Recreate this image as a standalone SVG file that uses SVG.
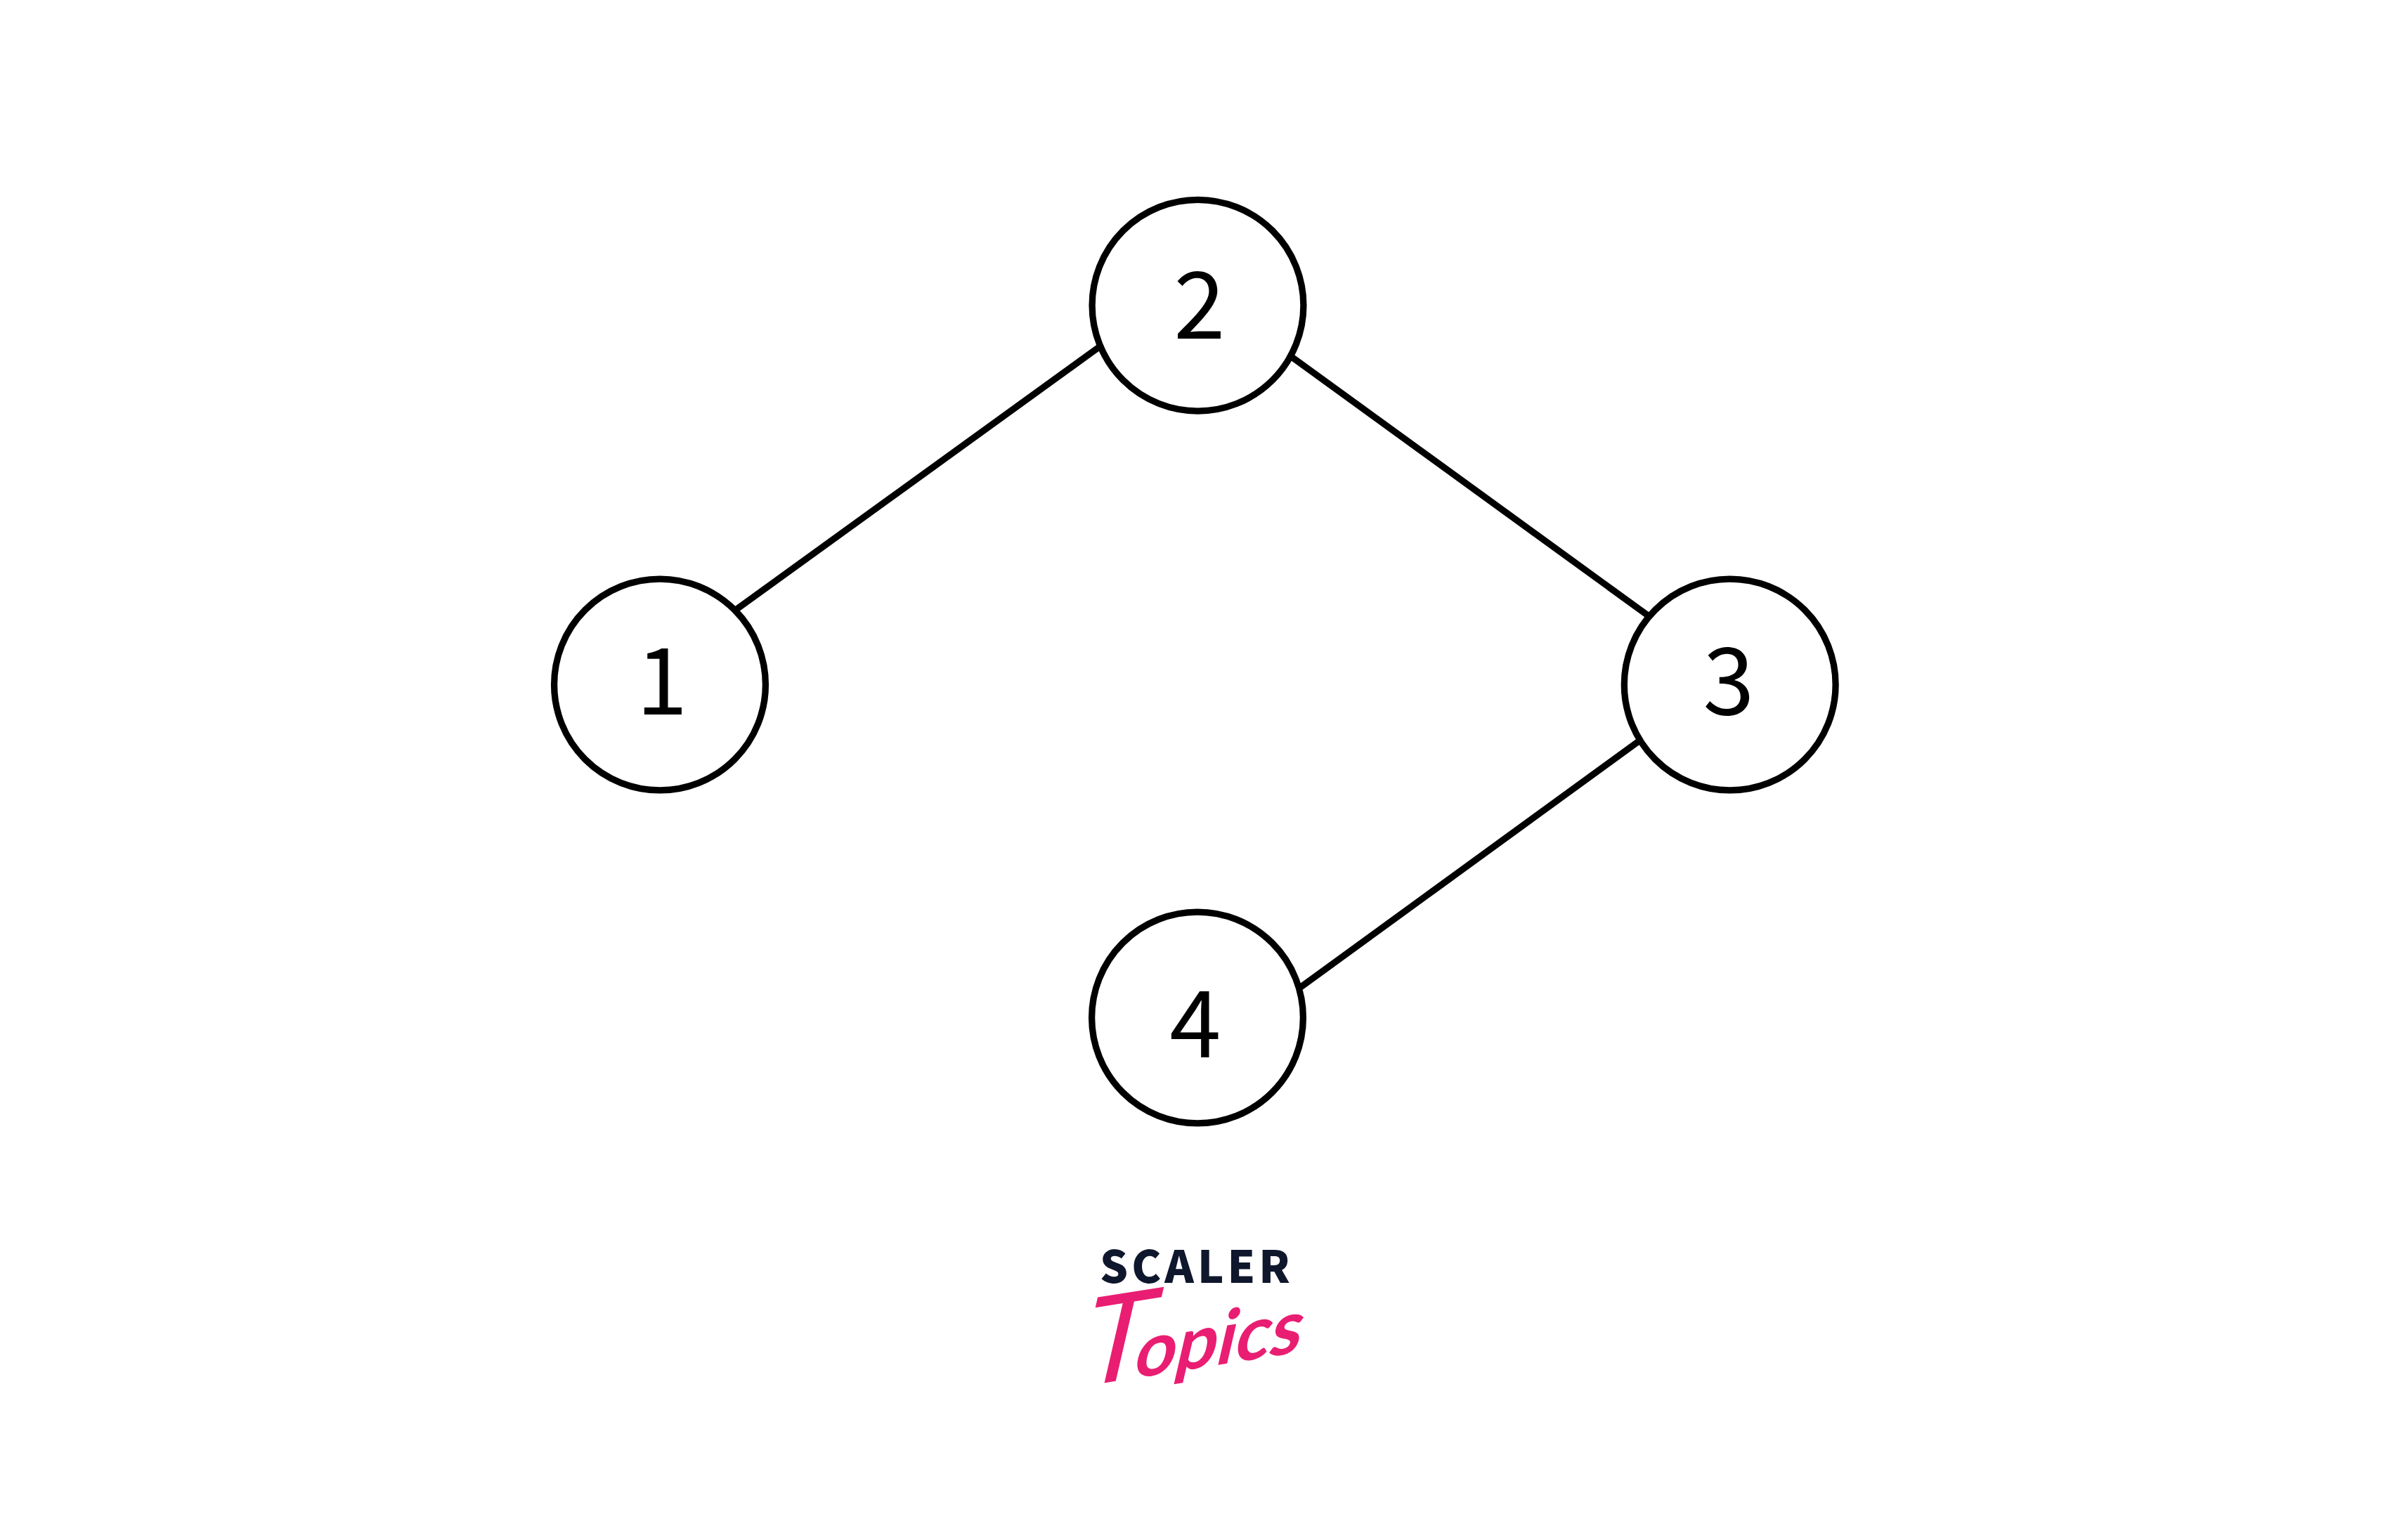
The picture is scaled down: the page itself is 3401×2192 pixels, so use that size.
<svg xmlns="http://www.w3.org/2000/svg" width="3401" height="2192" viewBox="0 0 3401 2192">
<style>
.n{fill:#fff;stroke:#000;stroke-width:9.3}
.l{font-family:"Noto Sans CJK SC","Noto Sans",sans-serif;font-size:132px;fill:#000;text-anchor:middle}
.e{stroke:#000;stroke-width:9.3;fill:none}
.s{font-family:"Noto Sans CJK SC","Noto Sans",sans-serif;font-weight:900;font-size:63px;letter-spacing:5px;fill:#0f172d;text-anchor:middle}
.t{font-family:"Lato",sans-serif;fill:#e91e72}
</style>
<rect width="3401" height="2192" fill="#fff"/>
<g id="connectors">
<line class="e" x1="1564" y1="494" x2="1047" y2="868"/>
<line class="e" x1="1838" y1="508" x2="2345" y2="876"/>
<line class="e" x1="2332" y1="1055" x2="1851" y2="1405"/>
</g>
<g id="node-2"><circle class="n" cx="1704.5" cy="434.7" r="150.4"/><text class="l" x="1707" y="481.7">2</text></g>
<g id="node-1"><circle class="n" cx="939" cy="974.5" r="150.4"/><text class="l" x="942" y="1016.7">1</text></g>
<g id="node-3"><circle class="n" cx="2461.7" cy="974.5" r="150.4"/><text class="l" x="2460" y="1016.7">3</text></g>
<g id="node-4"><circle class="n" cx="1704" cy="1448.5" r="150.4"/><text class="l" x="1701" y="1505">4</text></g>
<g id="logo">
<text class="s" x="1703" y="1826">SCALER</text>
<text class="t" transform="translate(1530 1975) rotate(-9) skewX(-22)"><tspan font-size="170" font-weight="400">T</tspan><tspan font-size="104" font-weight="700" dx="-20">opics</tspan></text>
</g>
</svg>
